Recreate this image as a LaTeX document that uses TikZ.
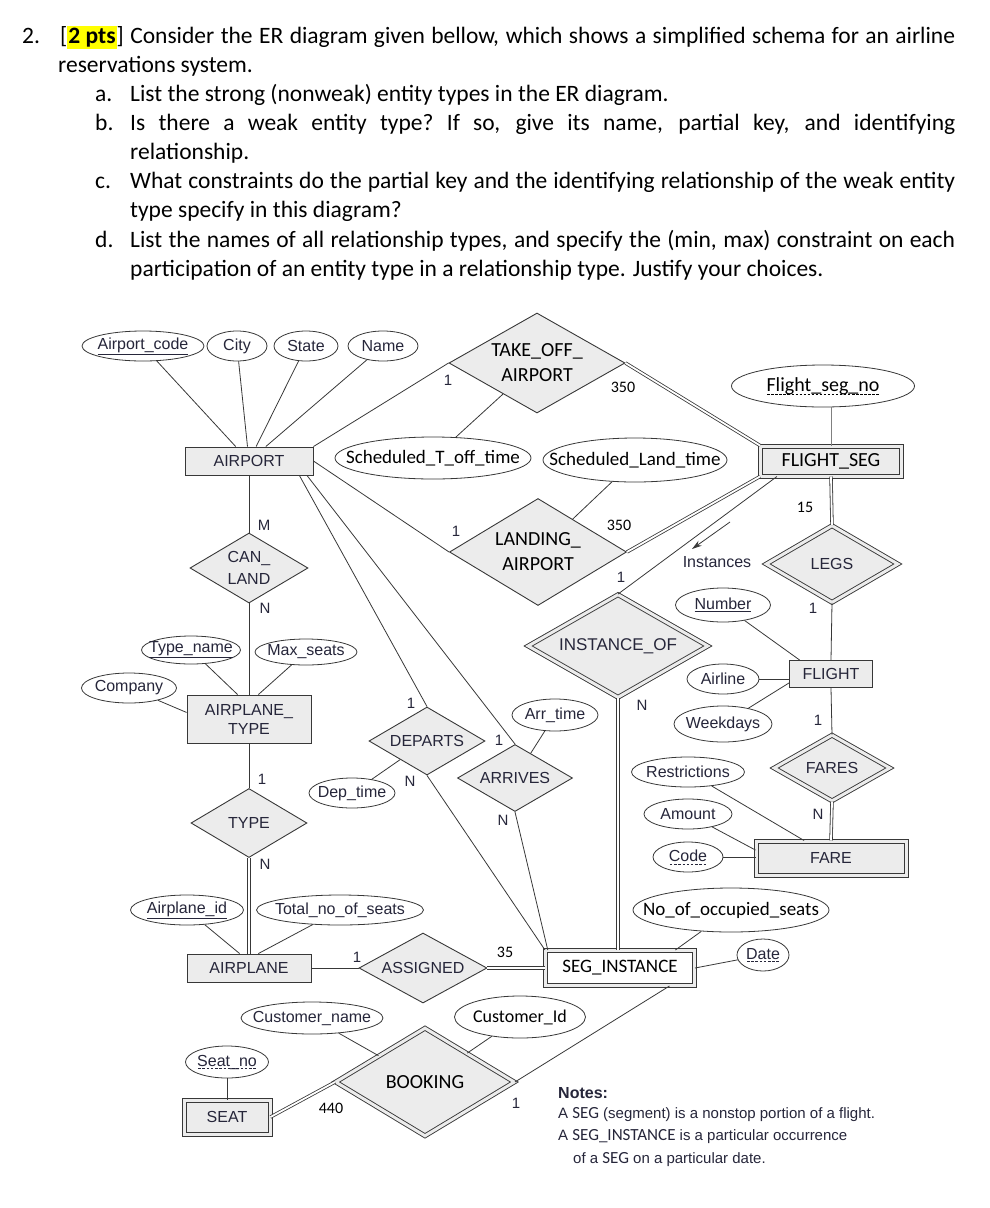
\documentclass[tikz,border=0pt]{standalone}
\usepackage{fontspec}
\setmainfont{Liberation Sans}
\newfontfamily\calfont{Carlito}
\usetikzlibrary{shapes.geometric, arrows.meta}

\definecolor{boxfill}{RGB}{236,236,236}
\definecolor{edgeink}{RGB}{56,56,56}
\definecolor{labelink}{RGB}{38,38,58}
\definecolor{hiyellow}{RGB}{255,255,0}

% dashed underline for partial keys
\newcommand{\partkey}[1]{\setbox0=\hbox{#1}\leavevmode\rlap{\raisebox{-3pt}{\hbox to \wd0{\xleaders\hbox to 4pt{\hss\vrule width 2.5pt height 0.7pt\hss}\hfill}}}\box0}

\tikzset{
  sz/.style 2 args={minimum width=#1pt, minimum height=#2pt},
  qtext/.style={anchor=base west, inner sep=0pt, font=\calfont\fontsize{23.5}{28}\selectfont},
  ent/.style={draw=edgeink, fill=boxfill, line width=0.9pt, inner sep=0pt, text=labelink,
    font=\fontsize{16}{19}\selectfont, align=center},
  weakent/.style={ent, line width=1pt, double=boxfill, double distance=3pt},
  rel/.style={diamond, draw=edgeink, fill=boxfill, line width=0.9pt, inner sep=0pt},
  weakrel/.style={rel, double=boxfill, double distance=3pt},
  rtext/.style={text=labelink, font=\fontsize{16}{22}\selectfont, align=center, inner sep=0pt},
  ctext/.style={text=black, font=\calfont\fontsize{20}{25}\selectfont, align=center, inner sep=0pt},
  attr/.style={ellipse, draw=edgeink, fill=white, line width=0.8pt, inner sep=0pt,
    text=labelink, font=\fontsize{16}{19}\selectfont,
    execute at begin node={\hbox to 0pt\bgroup\hss}, execute at end node={\hss\egroup}},
  calattr/.style={attr, text=black, font=\calfont\fontsize{19}{22}\selectfont},
  card/.style={inner sep=0pt, text=labelink, font=\fontsize{15}{18}\selectfont},
  calcard/.style={inner sep=0pt, font=\calfont\fontsize{16}{18}\selectfont},
  notetext/.style={anchor=base west, inner sep=0pt, text=labelink, font=\fontsize{15}{18}\selectfont},
  link/.style={draw=edgeink, line width=0.8pt},
  dlink/.style={link, double=white, double distance=1.8pt},
}

\begin{document}
\begin{tikzpicture}[x=1pt, y=-1pt]
\useasboundingbox (0,0) rectangle (990,1208);

% the question
\node[qtext] (qnum) at (22,43) {2.};
\node[qtext] (qone) at (60,43) {\makebox[895pt][s]{[{\setlength{\fboxsep}{1pt}\colorbox{hiyellow}{\rule[-5pt]{0pt}{21pt}\textbf{2 pts}}}] Consider the ER diagram given bellow, which shows a simplified schema for an airline}};
\node[qtext] (qtwo) at (58,72) {reservations system.};
\node[qtext] (qa) at (95,101) {a.};
\node[qtext] (qatext) at (130,101) {List the strong (nonweak) entity types in the ER diagram.};
\node[qtext] (qb) at (95,130) {b.};
\node[qtext] (qbtext) at (130,130) {\makebox[825pt][s]{Is there a weak entity type?\spacefactor1000{} If so, give its name, partial key, and identifying}};
\node[qtext] (qbmore) at (130,159) {relationship.};
\node[qtext] (qc) at (95,188) {c.};
\node[qtext] (qctext) at (130,188) {\makebox[825pt][s]{What constraints do the partial key and the identifying relationship of the weak entity}};
\node[qtext] (qcmore) at (130,217) {type specify in this diagram?};
\node[qtext] (qd) at (95,247) {d.};
\node[qtext] (qdtext) at (130,247) {\makebox[825pt][s]{List the names of all relationship types, and specify the (min, max) constraint on each}};
\node[qtext] (qdmore) at (130,276) {participation of an entity type in a relationship type. Justify your choices.};

% entities
\node[ent, sz={128}{28}] (airport) at (249,461) {AIRPORT};
\node[ent, sz={124}{48}] (airtype) at (249,719) {AIRPLANE\_\\TYPE};
\node[ent, sz={124}{28}] (airplane) at (249,968) {AIRPLANE};
\node[ent, sz={83}{27}] (flight) at (831,674) {FLIGHT};
\node[weakent, sz={141}{30}, text=black, font=\calfont\fontsize{20}{22}\selectfont] (flightseg) at (831,461) {FLIGHT\_SEG};
\node[weakent, sz={150}{34}] (fare) at (831,858) {FARE};
\node[weakent, sz={149}{35}, fill=white, text=black, font=\calfont\fontsize{19}{22}\selectfont] (seginst) at (620,968) {SEG\_INSTANCE};
\node[weakent, sz={86}{34}] (seat) at (227,1117) {SEAT};

% relationships
\node[rel, sz={176}{100}, label={[ctext]center:TAKE\_OFF\_\\AIRPORT}] (takeoff) at (537,363) {};
\node[rel, sz={177}{107}, label={[ctext]center:LANDING\_\\AIRPORT}] (landing) at (538,552) {};
\node[rel, sz={118}{70}, label={[rtext]center:CAN\_\\LAND}] (canland) at (249,568) {};
\node[rel, sz={116}{69}, label={[rtext]center:TYPE}] (typerel) at (249,823) {};
\node[rel, sz={116}{68}, label={[rtext]center:DEPARTS}] (departs) at (427,741) {};
\node[rel, sz={115}{67}, label={[rtext]center:ARRIVES}] (arrives) at (515,778) {};
\node[rel, sz={128}{70}, label={[rtext]center:ASSIGNED}] (assigned) at (423,968) {};
\node[weakrel, sz={180}{103}, label={[rtext, font=\fontsize{17}{20}\selectfont]center:INSTANCE\_OF}] (instof) at (618,646) {};
\node[weakrel, sz={132}{77}, label={[rtext]center:LEGS}] (legs) at (832,564) {};
\node[weakrel, sz={116}{66}, label={[rtext]center:FARES}] (fares) at (832,768) {};
\node[weakrel, sz={179}{108}, label={[ctext]center:BOOKING}] (booking) at (425,1082) {};

% attributes
\node[attr, sz={122}{30}] (acode) at (143,346) {\underline{Airport\_code}};
\node[attr, sz={60}{30}] (city) at (237,346) {City};
\node[attr, sz={64}{30}] (state) at (306,346) {State};
\node[attr, sz={70}{30}] (aname) at (383,346) {Name};
\node[calattr, sz={196}{42}] (schedt) at (433,458) {Scheduled\_T\_off\_time};
\node[calattr, sz={184}{44}] (schedl) at (635,460) {Scheduled\_Land\_time};
\node[calattr, sz={183}{42}, font=\calfont\fontsize{20}{22}\selectfont] (fsegno) at (823,386) {\partkey{Flight\_seg\_no}};
\node[attr, sz={99}{28}] (typename) at (191,650) {\underline{Type\_name}};
\node[attr, sz={102}{26}] (maxseats) at (306,652) {Max\_seats};
\node[attr, sz={95}{30}] (company) at (129,688) {Company};
\node[attr, sz={86}{30}] (deptime) at (352,793) {Dep\_time};
\node[attr, sz={86}{32}] (arrtime) at (555,715) {Arr\_time};
\node[attr, sz={113}{30}] (airplaneid) at (187,910) {\underline{Airplane\_id}};
\node[attr, sz={167}{30}] (totseats) at (340,910) {Total\_no\_of\_seats};
\node[attr, sz={142}{32}] (custname) at (312,1018) {Customer\_name};
\node[calattr, sz={131}{42}, font=\calfont\fontsize{18}{22}\selectfont] (custid) at (520,1017) {Customer\_Id};
\node[attr, sz={83}{32}] (seatno) at (227,1062) {\partkey{Seat\_no}};
\node[attr, sz={95}{34}] (number) at (723,605) {\underline{Number}};
\node[attr, sz={72}{30}] (airline) at (723,679) {Airline};
\node[attr, sz={98}{36}] (weekdays) at (723,724) {Weekdays};
\node[attr, sz={113}{30}] (restr) at (688,772) {Restrictions};
\node[attr, sz={88}{30}] (amount) at (688,814) {Amount};
\node[attr, sz={70}{30}] (code) at (688,857) {\partkey{Code}};
\node[calattr, sz={196}{44}] (noocc) at (731,910) {No\_of\_occupied\_seats};
\node[attr, sz={52}{32}] (date) at (763,955) {\partkey{Date}};

% attribute links
\draw[link] (acode) -- (airport);
\draw[link] (city) -- (airport);
\draw[link] (state) -- (airport);
\draw[link] (aname) -- (airport);
\draw[link] (schedt) -- (takeoff);
\draw[link] (schedl) -- (landing);
\draw[link, draw=gray] (fsegno.south -| flightseg.north) -- (flightseg.north);
\draw[link] (typename) -- (airtype.115);
\draw[link] (maxseats) -- (airtype.69);
\draw[link] (company) -- (airtype.174);
\draw[link] (deptime) -- (departs);
\draw[link] (arrtime) -- (arrives);
\draw[link] (airplaneid) -- (airplane.123);
\draw[link] (totseats) -- (airplane.57);
\draw[link] (custname) -- (booking);
\draw[link] (custid) -- (booking);
\draw[link] (seatno) -- (seat);
\draw[link] (number) -- (flight.156);
\draw[link] (airline.east) -- (airline.east -| flight.west);
\draw[link] (weekdays) -- (flight.192);
\draw[link] (restr) -- (fare.147);
\draw[link] (amount) -- (fare.174);
\draw[link] (code.east) -- (code.east -| fare.west);
\draw[link] (noocc) -- (seginst.18);
\draw[link] (date) -- (seginst.east);

% relationship links
\draw[link] (airport.north east) -- (takeoff.west);
\draw[link] (airport.east) -- (landing.west);
\draw[link] (airport.-16) -- (departs.north);
\draw[link] (airport.-14) -- (arrives.north);
\draw[link] (airport) -- (canland);
\draw[link] (canland) -- (airtype);
\draw[link] (airtype) -- (typerel);
\draw[dlink] (typerel.south) -- (airplane.north);
\draw[link] (airplane) -- (assigned);
\draw[dlink] (assigned.east) -- (seginst.west);
\draw[link] (departs.south) -- (seginst.north west);
\draw[link] (arrives.south) -- (seginst.166);
\draw[dlink] (takeoff.east) -- (flightseg.north west);
\draw[dlink] (landing.east) -- (flightseg.south west);
\draw[link] (flightseg.196) -- (instof.north);
\draw[dlink] (instof.south) -- (instof.south |- seginst.north);
\draw[dlink] (flightseg.south) -- (legs.north);
\draw[link] (legs.south) -- (flight.north);
\draw[link] (flight.south) -- (fares.north);
\draw[dlink] (fares.south) -- (fare.north);
\draw[link] (booking.east) -- (seginst.-20);
\draw[dlink] (seat.east) -- (booking.west);

% instances arrow
\coordinate (instTail) at (730,522);
\coordinate (instHead) at (692,549);
\draw[link, -{Stealth[length=10pt, width=6pt]}] (instTail) -- (instHead);
\node[card, font=\fontsize{16}{18}\selectfont] (instword) at (717,562) {Instances};

% cardinalities
\node[card] (cTakeA) at (448,380) {1};
\node[calcard] (cTakeB) at (623,387) {350};
\node[card] (cLandA) at (456,531) {1};
\node[calcard] (cLandB) at (619,525) {350};
\node[calcard] (cLegsA) at (805,507) {15};
\node[card] (cLegsB) at (813,608) {1};
\node[card] (cInstA) at (621,577) {1};
\node[card] (cInstB) at (642,705) {N};
\node[card] (cCanA) at (264,525) {M};
\node[card] (cCanB) at (265,608) {N};
\node[card] (cTypeA) at (262,779) {1};
\node[card] (cTypeB) at (265,864) {N};
\node[card] (cDepA) at (411,703) {1};
\node[card] (cDepB) at (410,781) {N};
\node[card] (cArrA) at (499,740) {1};
\node[card] (cArrB) at (503,820) {N};
\node[card] (cFaresA) at (818,720) {1};
\node[card] (cFaresB) at (818,814) {N};
\node[card] (cAsgA) at (357,957) {1};
\node[calcard] (cAsgB) at (505,952) {35};
\node[card] (cBookA) at (516,1103) {1};
\node[calcard] (cBookB) at (331,1108) {440};

% notes
\node[notetext, font=\bfseries\fontsize{16}{18}\selectfont] (notehead) at (558,1098) {Notes:};
\node[notetext] (noteone) at (558,1118) {A {\calfont\fontsize{17}{18}\selectfont SEG} (segment) is a nonstop portion of a flight.};
\node[notetext] (notetwo) at (558,1140) {A {\calfont\fontsize{17}{18}\selectfont SEG\_INSTANCE} is a particular occurrence};
\node[notetext] (notethree) at (573,1163) {of a {\calfont\fontsize{17}{18}\selectfont SEG} on a particular date.};
\end{tikzpicture}
\end{document}
